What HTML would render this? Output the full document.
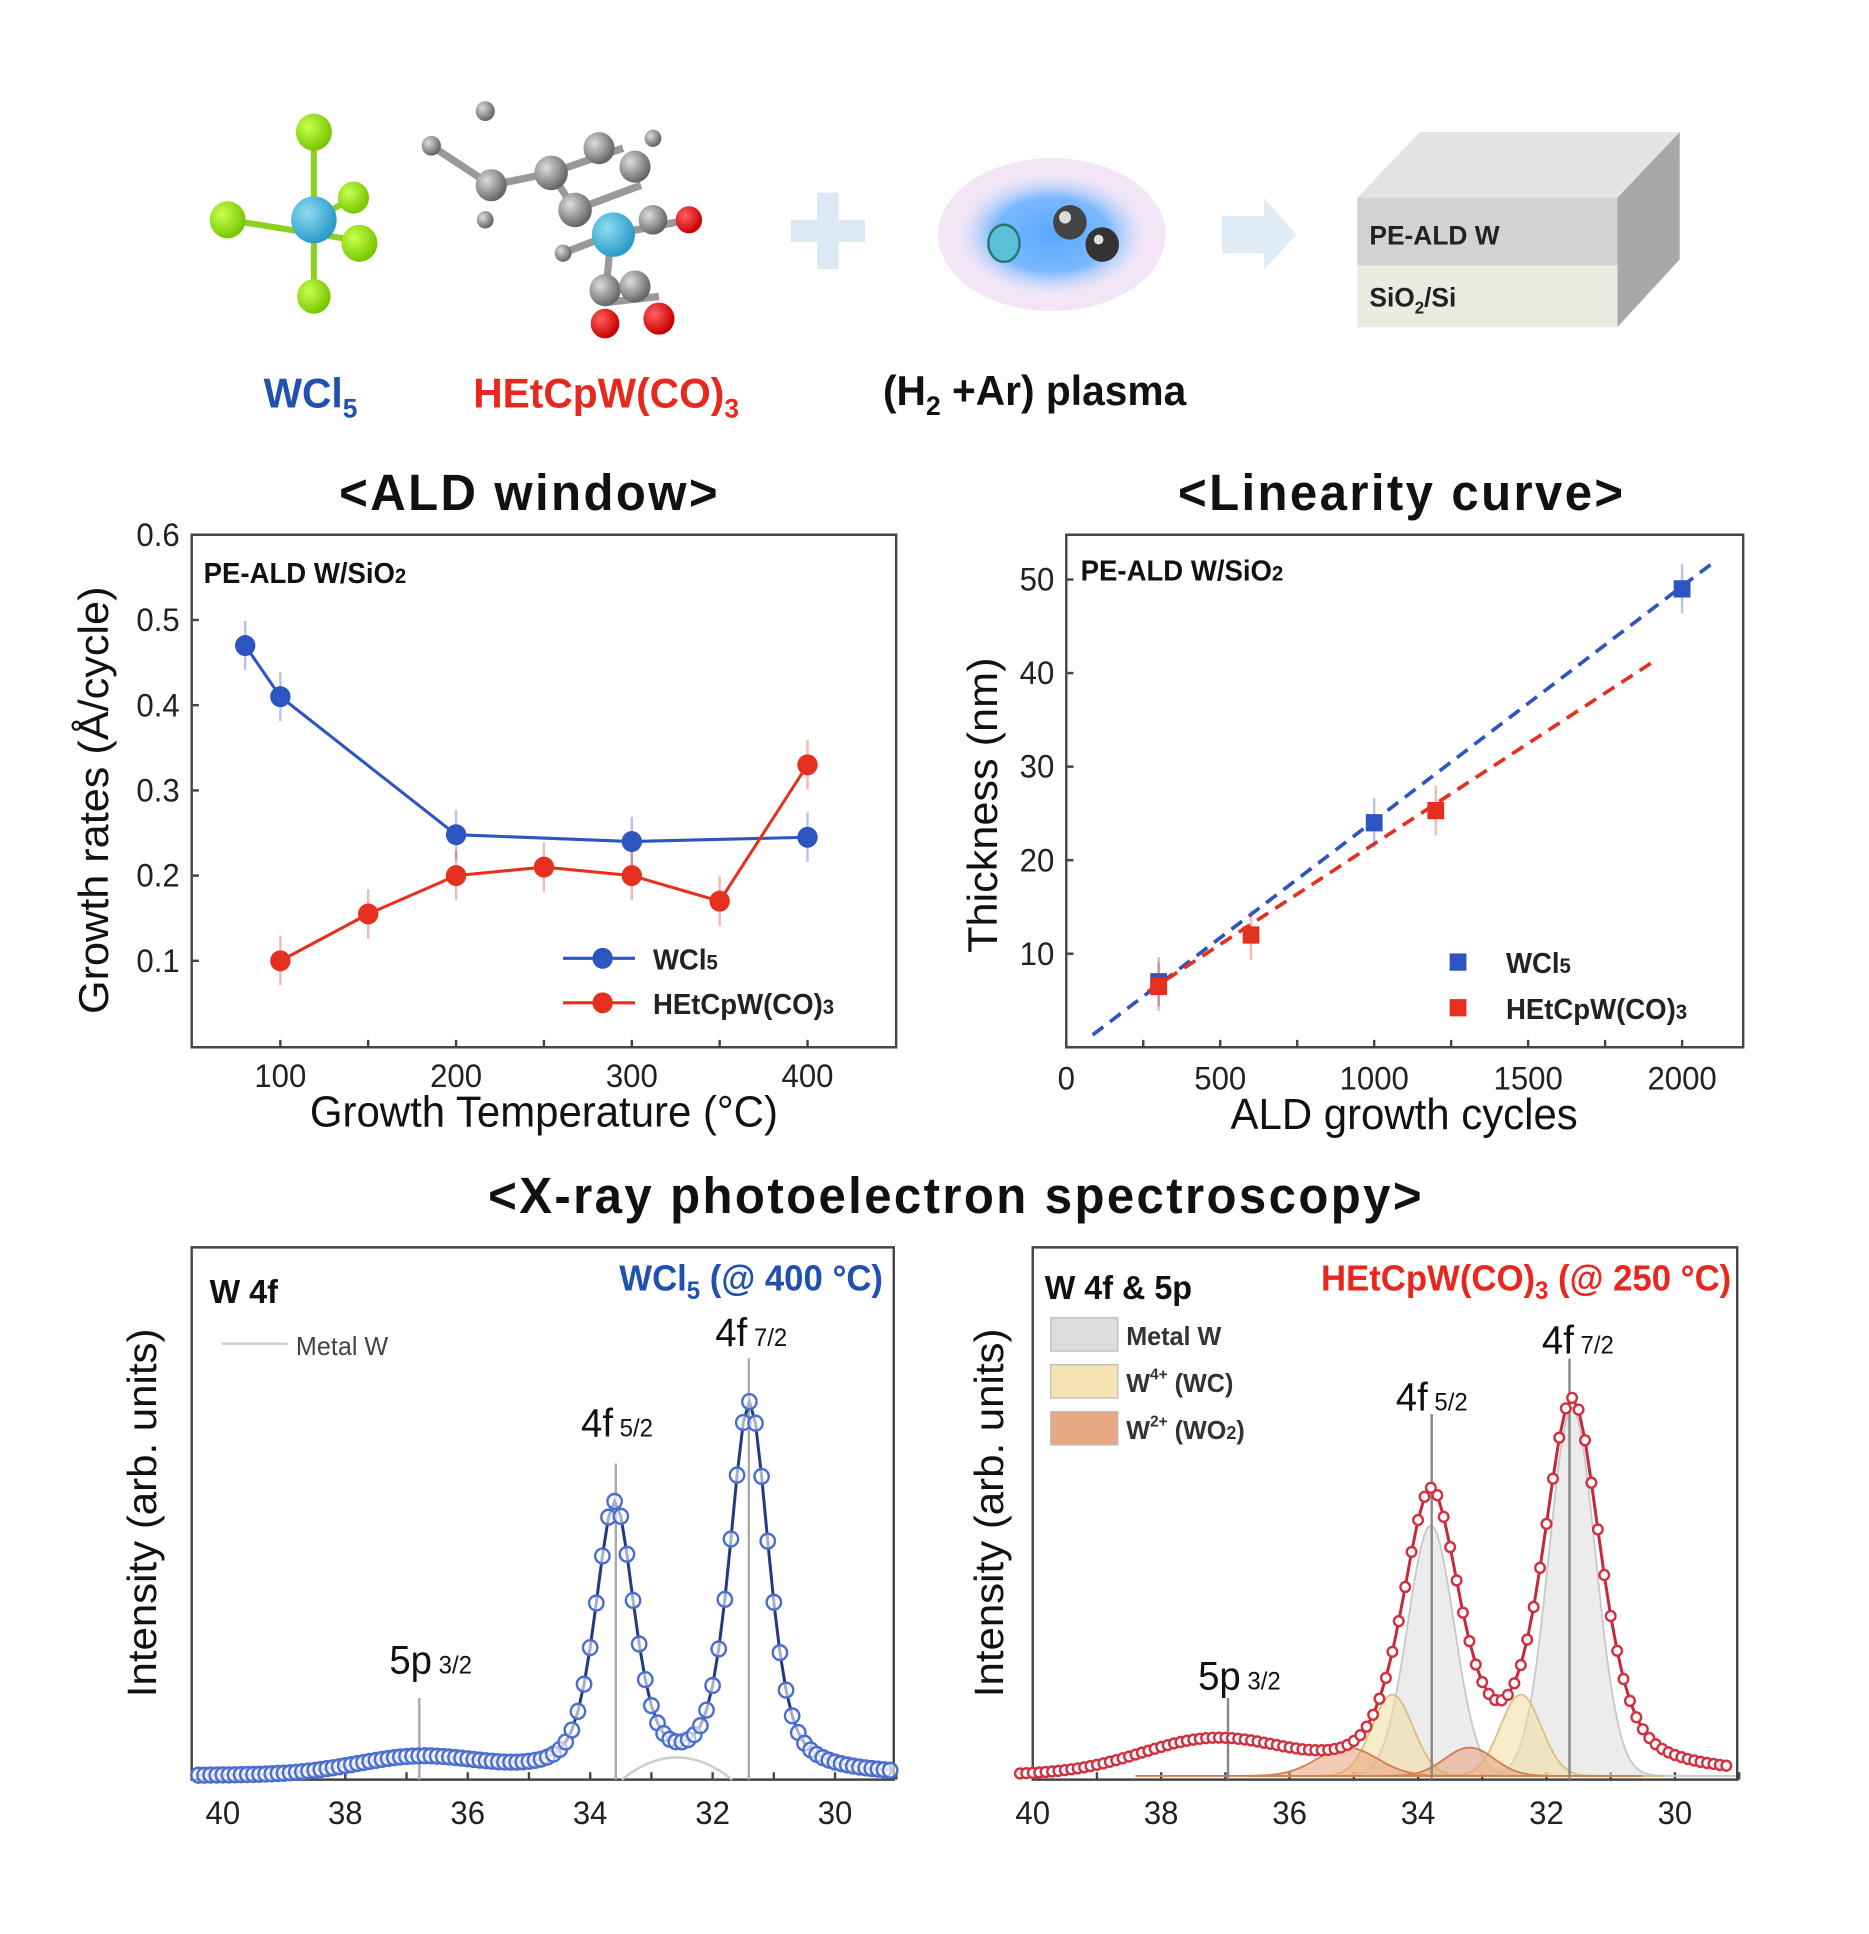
<!DOCTYPE html>
<html><head><meta charset="utf-8"><style>
html,body{margin:0;padding:0;background:#fff}
svg{display:block}
text{font-family:"Liberation Sans",Arial,sans-serif}
</style></head><body>
<svg id="s" width="1869" height="1934" viewBox="0 0 1560 1566" preserveAspectRatio="none" xmlns="http://www.w3.org/2000/svg">
<defs>
<radialGradient id="glow" cx="50%" cy="50%" r="50%"><stop offset="0" stop-color="#5aa8ff"/><stop offset="0.6" stop-color="#7ab8ff"/><stop offset="1" stop-color="#f4e8f8" stop-opacity="0.3"/></radialGradient>
<radialGradient id="gr" cx="35%" cy="35%" r="65%"><stop offset="0" stop-color="#ddd"/><stop offset="1" stop-color="#666"/></radialGradient>
<radialGradient id="gn" cx="35%" cy="35%" r="65%"><stop offset="0" stop-color="#c8ff50"/><stop offset="1" stop-color="#78c800"/></radialGradient>
<radialGradient id="rd" cx="35%" cy="35%" r="65%"><stop offset="0" stop-color="#ff6060"/><stop offset="1" stop-color="#c80000"/></radialGradient>
<radialGradient id="bl" cx="35%" cy="35%" r="65%"><stop offset="0" stop-color="#8fdcf0"/><stop offset="1" stop-color="#2a9cc8"/></radialGradient>
</defs>
<g stroke="#8cd020" stroke-width="5"><line x1="262" y1="107" x2="262" y2="240"/><line x1="190" y1="178" x2="300" y2="195"/><line x1="262" y1="178" x2="295" y2="160"/></g>
<circle cx="262" cy="107" r="15" fill="url(#gn)"/><circle cx="262" cy="240" r="14" fill="url(#gn)"/>
<circle cx="190" cy="178" r="15" fill="url(#gn)"/><circle cx="295" cy="160" r="13" fill="url(#gn)"/><circle cx="300" cy="197" r="15" fill="url(#gn)"/>
<circle cx="262" cy="178" r="19" fill="url(#bl)"/>
<g stroke="#999" stroke-width="6"><line x1="360" y1="118" x2="410" y2="150"/><line x1="410" y1="150" x2="460" y2="140"/><line x1="460" y1="140" x2="520" y2="120"/><line x1="460" y1="140" x2="480" y2="170"/><line x1="480" y1="170" x2="535" y2="150"/><line x1="510" y1="190" x2="575" y2="178"/><line x1="510" y1="190" x2="505" y2="245"/><line x1="505" y1="245" x2="550" y2="240"/><line x1="470" y1="205" x2="510" y2="190"/></g>
<circle cx="405" cy="90" r="8" fill="url(#gr)"/><circle cx="360" cy="118" r="8" fill="url(#gr)"/><circle cx="410" cy="150" r="13" fill="url(#gr)"/><circle cx="405" cy="178" r="7" fill="url(#gr)"/>
<circle cx="460" cy="140" r="14" fill="url(#gr)"/><circle cx="480" cy="170" r="14" fill="url(#gr)"/><circle cx="500" cy="120" r="13" fill="url(#gr)"/><circle cx="530" cy="135" r="13" fill="url(#gr)"/><circle cx="545" cy="112" r="7" fill="url(#gr)"/>
<circle cx="545" cy="178" r="12" fill="url(#gr)"/><circle cx="575" cy="178" r="11" fill="url(#rd)"/><circle cx="470" cy="205" r="7" fill="url(#gr)"/>
<circle cx="505" cy="235" r="13" fill="url(#gr)"/><circle cx="530" cy="232" r="13" fill="url(#gr)"/><circle cx="505" cy="262" r="12" fill="url(#rd)"/><circle cx="550" cy="258" r="13" fill="url(#rd)"/>
<circle cx="512" cy="190" r="18" fill="url(#bl)"/>
<g fill="#dce8f4"><rect x="660" y="178" width="62" height="18"/><rect x="682" y="156" width="18" height="62"/></g>
<ellipse cx="878" cy="190" rx="95" ry="62" fill="#f2e6f6"/>
<ellipse cx="878" cy="190" rx="80" ry="50" fill="url(#glow)"/>
<ellipse cx="838" cy="197" rx="13" ry="15" fill="#5cc0d8" stroke="#277" stroke-width="2"/>
<circle cx="893" cy="180" r="14" fill="#444"/><circle cx="920" cy="198" r="14" fill="#333"/><circle cx="889" cy="176" r="5" fill="#ddd"/><circle cx="917" cy="194" r="4" fill="#ddd"/>
<path d="M1020 175 H1055 V160 L1082 190 L1055 218 V205 H1020Z" fill="#e0ecf6"/>
<path d="M1133 160 L1185 107 L1402 107 L1350 160Z" fill="#e4e4e4"/>
<path d="M1350 160 L1402 107 L1402 210 L1350 265Z" fill="#a8a8a8"/>
<rect x="1133" y="160" width="217" height="55" fill="#d2d2d2"/>
<rect x="1133" y="215" width="217" height="50" fill="#ecebdf"/>
<text x="1143" y="198" font-size="22" font-weight="bold" fill="#222">PE-ALD W</text>
<text x="1143" y="248" font-size="22" font-weight="bold" fill="#222">SiO<tspan font-size="14" dy="6">2</tspan><tspan dy="-6">/Si</tspan></text>
<text x="220" y="330" font-size="34" font-weight="bold" fill="#2050b0">WCl<tspan font-size="22" dy="8">5</tspan></text>
<text x="395" y="330" font-size="34" font-weight="bold" fill="#e8281e">HEtCpW(CO)<tspan font-size="22" dy="8">3</tspan></text>
<text x="737" y="328" font-size="34" font-weight="bold" fill="#111">(H<tspan font-size="22" dy="8">2</tspan><tspan dy="-8"> +Ar) plasma</tspan></text>
<g font-size="41" font-weight="bold" fill="#111" text-anchor="middle" letter-spacing="2">
<text x="442" y="413">&lt;ALD window&gt;</text>
<text x="1170" y="413">&lt;Linearity curve&gt;</text>
<text x="798" y="982">&lt;X-ray photoelectron spectroscopy&gt;</text>
</g>
<g id="dyn"></g>
</svg>
<script>
var g=document.getElementById("dyn"),h="";
function t(x,y,s,o){o=o||"";h+='<text x="'+x+'" y="'+y+'" '+o+'>'+s+'</text>';}
h+='<rect x="160" y="433" width="588" height="415" fill="none" stroke="#444" stroke-width="2"/>';
var X1=function(v){return 234+(v-100)*1.4667},Y1=function(v){return 847-v*690};
for(var v=0.1;v<0.65;v+=0.1){var y=Y1(v);h+='<line x1="160" x2="166" y1="'+y+'" y2="'+y+'" stroke="#444" stroke-width="2"/>';t(150,y+9,v.toFixed(1),'font-size="26" text-anchor="end" fill="#222"');}
for(var v=100;v<=400;v+=50){var x=X1(v);h+='<line x1="'+x+'" x2="'+x+'" y1="848" y2="842" stroke="#444" stroke-width="2"/>';if(v%100==0)t(x,880,v,'font-size="26" text-anchor="middle" fill="#222"');}
t(454,912,'Growth Temperature (°C)','font-size="35" text-anchor="middle" fill="#111"');
t(0,0,'Growth rates (Å/cycle)','font-size="35" text-anchor="middle" fill="#111" transform="translate(90,648) rotate(-90)"');
t(170,472,'PE-ALD W/SiO<tspan font-size="17">2</tspan>','font-size="23" font-weight="bold" fill="#111"');
function series(pts,c,X,Y,sq){var d=pts.map(function(p,i){return(i?"L":"M")+X(p[0])+" "+Y(p[1])}).join(" ");
 if(!sq)h+='<path d="'+d+'" fill="none" stroke="'+c+'" stroke-width="2.5"/>';
 pts.forEach(function(p){var x=X(p[0]),y=Y(p[1]);h+='<line x1="'+x+'" x2="'+x+'" y1="'+(y-20)+'" y2="'+(y+20)+'" stroke="'+c+'" stroke-opacity="0.35" stroke-width="2"/>';
 h+=sq?'<rect x="'+(x-7)+'" y="'+(y-7)+'" width="14" height="14" fill="'+c+'"/>':'<circle cx="'+x+'" cy="'+y+'" r="8.5" fill="'+c+'"/>';});}
var B="#2d55c0",R="#e6301f";
series([[80,.47],[100,.41],[200,.248],[300,.24],[400,.245]],B,X1,Y1);
series([[100,.1],[150,.155],[200,.2],[250,.21],[300,.2],[350,.17],[400,.33]],R,X1,Y1);
h+='<line x1="470" x2="530" y1="776" y2="776" stroke="'+B+'" stroke-width="2.5"/><circle cx="503" cy="776" r="8.5" fill="'+B+'"/>';
h+='<line x1="470" x2="530" y1="812" y2="812" stroke="'+R+'" stroke-width="2.5"/><circle cx="503" cy="812" r="8.5" fill="'+R+'"/>';
t(545,785,'WCl<tspan font-size="17">5</tspan>','font-size="23" font-weight="bold" fill="#222"');
t(545,821,'HEtCpW(CO)<tspan font-size="17">3</tspan>','font-size="23" font-weight="bold" fill="#222"');
h+='<rect x="890" y="433" width="565" height="415" fill="none" stroke="#444" stroke-width="2"/>';
var X2=function(v){return 890+v*0.257},Y2=function(v){return 848-v*7.575};
for(var v=10;v<=50;v+=10){var y=Y2(v);h+='<line x1="890" x2="896" y1="'+y+'" y2="'+y+'" stroke="#444" stroke-width="2"/>';t(880,y+9,v,'font-size="26" text-anchor="end" fill="#222"');}
for(var v=0;v<=2000;v+=250){var x=X2(v);h+='<line x1="'+x+'" x2="'+x+'" y1="848" y2="842" stroke="#444" stroke-width="2"/>';if(v%500==0)t(x,882,v,'font-size="26" text-anchor="middle" fill="#222"');}
t(1172,914,'ALD growth cycles','font-size="35" text-anchor="middle" fill="#111"');
t(0,0,'Thickness (nm)','font-size="35" text-anchor="middle" fill="#111" transform="translate(832,652) rotate(-90)"');
t(902,470,'PE-ALD W/SiO<tspan font-size="17">2</tspan>','font-size="23" font-weight="bold" fill="#111"');
h+='<line x1="912" y1="838" x2="1428" y2="457" stroke="'+B+'" stroke-width="3" stroke-dasharray="11,7"/>';
h+='<line x1="958" y1="803" x2="1378" y2="537" stroke="'+R+'" stroke-width="3" stroke-dasharray="11,7"/>';
series([[300,7],[1000,24],[2000,49]],B,X2,Y2,1);
series([[300,6.5],[600,12],[1200,25.3]],R,X2,Y2,1);
h+='<rect x="1210" y="772" width="14" height="14" fill="'+B+'"/><rect x="1210" y="809" width="14" height="14" fill="'+R+'"/>';
t(1257,788,'WCl<tspan font-size="17">5</tspan>','font-size="23" font-weight="bold" fill="#222"');
t(1257,825,'HEtCpW(CO)<tspan font-size="17">3</tspan>','font-size="23" font-weight="bold" fill="#222"');
function pv(E,c,w){var x=(E-c)/w;return 0.5*Math.exp(-4*Math.LN2*x*x)+0.5/(1+4*x*x);}
function gs(E,c,w){var x=(E-c)/w;return Math.exp(-4*Math.LN2*x*x);}
h+='<rect x="160" y="1010" width="586" height="431" fill="none" stroke="#444" stroke-width="2"/>';
var X3=function(E){return 186+(40-E)*51.1};
for(var E=40;E>=29;E--){var x=X3(E);h+='<line x1="'+x+'" x2="'+x+'" y1="1441" y2="1435" stroke="#444" stroke-width="2"/>';if(E%2==0)t(x,1477,E,'font-size="26" text-anchor="middle" fill="#222"');}
t(0,0,'Intensity (arb. units)','font-size="34" text-anchor="middle" fill="#111" transform="translate(130,1225) rotate(-90)"');
t(175,1055,'W 4f','font-size="27" font-weight="bold" fill="#111"');
t(737,1045,'WCl<tspan font-size="20" dy="7">5</tspan><tspan dy="-7"> (@ 400 °C)</tspan>','font-size="29" font-weight="bold" fill="#2050b0" text-anchor="end"');
h+='<line x1="185" x2="240" y1="1088" y2="1088" stroke="#ccc" stroke-width="2"/>';t(247,1097,'Metal W','font-size="21" fill="#444"');
function f3(E){return 1438-(300*pv(E,31.4,0.75)+218*pv(E,33.6,0.75)+14*gs(E,36.8,2.4));}
[[350,1375],[514,1185],[625,1100]].forEach(function(l){h+='<line x1="'+l[0]+'" x2="'+l[0]+'" y1="'+l[1]+'" y2="1441" stroke="#aaa" stroke-width="2"/>';});
h+='<path d="M519 1441 Q565 1405 611 1441" fill="none" stroke="#ccc" stroke-width="2"/>';
var d="",cs="";for(var E=40.4;E>=29;E-=0.1){var x=X3(E),y=f3(E);d+=(d?"L":"M")+x.toFixed(1)+" "+y.toFixed(1);cs+='<circle cx="'+x.toFixed(1)+'" cy="'+y.toFixed(1)+'" r="6"/>';}
h+='<path d="'+d+'" fill="none" stroke="#223a80" stroke-width="2.5"/><g fill="#fff" fill-opacity="0.6" stroke="#4a6ed0" stroke-width="2">'+cs+'</g>';
t(325,1355,'5p<tspan font-size="20"> 3/2</tspan>','font-size="32" fill="#111"');
t(485,1163,'4f<tspan font-size="20"> 5/2</tspan>','font-size="32" fill="#111"');
t(597,1090,'4f<tspan font-size="20"> 7/2</tspan>','font-size="32" fill="#111"');
h+='<rect x="862" y="1010" width="588" height="431" fill="none" stroke="#444" stroke-width="2"/>';
var X4=function(E){return 862+(40-E)*53.6};
for(var E=40;E>=29;E--){var x=X4(E);h+='<line x1="'+x+'" x2="'+x+'" y1="1441" y2="1435" stroke="#444" stroke-width="2"/>';if(E%2==0)t(x,1477,E,'font-size="26" text-anchor="middle" fill="#222"');}
t(0,0,'Intensity (arb. units)','font-size="34" text-anchor="middle" fill="#111" transform="translate(837,1225) rotate(-90)"');
t(872,1052,'W 4f &amp; 5p','font-size="27" font-weight="bold" fill="#111"');
t(1445,1045,'HEtCpW(CO)<tspan font-size="20" dy="7">3</tspan><tspan dy="-7"> (@ 250 °C)</tspan>','font-size="29" font-weight="bold" fill="#e8281e" text-anchor="end"');
var leg=[["#dcdcdc","Metal W",1070],["#f6e4b4","W<tspan font-size=\"13\" dy=\"-10\">4+</tspan><tspan dy=\"10\"> (WC)</tspan>",1108],["#e9a984","W<tspan font-size=\"13\" dy=\"-10\">2+</tspan><tspan dy=\"10\"> (WO</tspan><tspan font-size=\"15\">2</tspan>)",1146]];
leg.forEach(function(l){h+='<rect x="877" y="'+(l[2]-3)+'" width="56" height="27" fill="'+l[0]+'" stroke="#bbb"/>';t(940,l[2]+19,l[1],'font-size="21" font-weight="bold" fill="#333"');});
function comp(c,w,a,fill,st){var d="M"+X4(c-3*w)+" 1438";for(var E=c-3*w;E<=c+3*w;E+=0.05)d+="L"+X4(E).toFixed(1)+" "+(1438-a*gs(E,c,w)).toFixed(1);d+="L"+X4(c+3*w)+" 1438Z";h+='<path d="'+d+'" fill="'+fill+'" fill-opacity="0.55" stroke="'+st+'" stroke-width="1.5"/>';}
comp(33.8,0.85,203,"#dcdcdc","#c8c8c8");comp(31.6,0.85,298,"#dcdcdc","#c8c8c8");
comp(34.4,0.75,66,"#f3dca0","#d8c080");comp(32.4,0.75,66,"#f3dca0","#d8c080");
comp(35.1,1.1,23,"#e8a07a","#d08050");comp(33.2,0.9,23,"#e8a07a","#d08050");
[[1025,1375],[1195,1145],[1310,1100]].forEach(function(l){h+='<line x1="'+l[0]+'" x2="'+l[0]+'" y1="'+l[1]+'" y2="1441" stroke="#888" stroke-width="2"/>';});
function f4(E){return 1438-(300*pv(E,31.6,1.05)+225*pv(E,33.8,1.05)+27*gs(E,37.2,2.6));}
d="";cs="";for(var E=40.2;E>=29.1;E-=0.1){var x=X4(E),y=f4(E);d+=(d?"L":"M")+x.toFixed(1)+" "+y.toFixed(1);cs+='<circle cx="'+x.toFixed(1)+'" cy="'+y.toFixed(1)+'" r="4"/>';}
h+='<path d="'+d+'" fill="none" stroke="#c8283c" stroke-width="2.5"/><g fill="#fff" stroke="#d03040" stroke-width="2">'+cs+'</g>';
t(1000,1368,'5p<tspan font-size="20"> 3/2</tspan>','font-size="32" fill="#111"');
t(1165,1142,'4f<tspan font-size="20"> 5/2</tspan>','font-size="32" fill="#111"');
t(1287,1096,'4f<tspan font-size="20"> 7/2</tspan>','font-size="32" fill="#111"');
g.innerHTML=h;
</script>
</body></html>
